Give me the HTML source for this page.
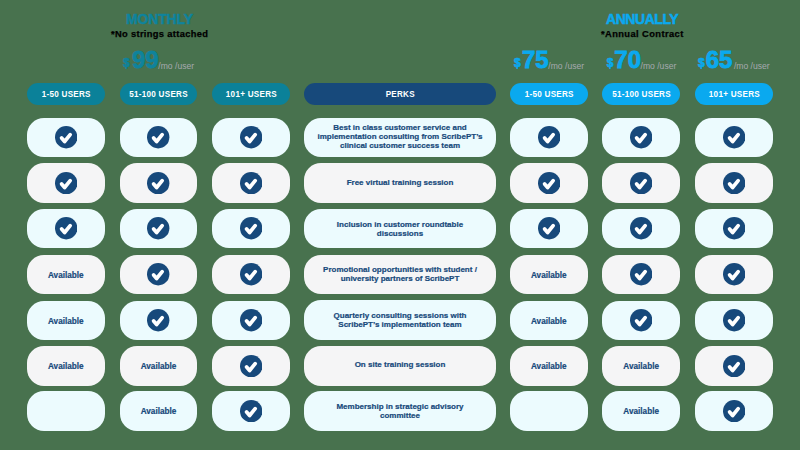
<!DOCTYPE html>
<html><head><meta charset="utf-8"><style>
html,body{margin:0;padding:0;}
body{width:800px;height:450px;background:#48724e;position:relative;overflow:hidden;font-family:"Liberation Sans",sans-serif;}
.cell{position:absolute;border-radius:17px;display:flex;align-items:center;justify-content:center;}
.cell svg{display:block;}
.av{font-size:8.2px;font-weight:bold;color:#17497b;-webkit-text-stroke:0.2px #17497b;position:relative;top:0.8px;}
.pk{font-size:8px;font-weight:bold;color:#17497b;text-align:center;line-height:9px;position:relative;top:-1.4px;-webkit-text-stroke:0.2px #17497b;}
.pill{position:absolute;top:83px;width:77.7px;height:22px;border-radius:11px;box-sizing:border-box;padding-bottom:0.5px;color:#fff;font-size:9px;letter-spacing:0.3px;font-weight:bold;display:flex;align-items:center;justify-content:center;}
.pill span{display:inline-block;transform:scaleX(0.9);white-space:nowrap;}
.hd{position:absolute;font-weight:bold;white-space:nowrap;}
</style></head><body>
<div class="hd" style="left:126px;top:11px;font-size:14px;letter-spacing:-0.15px;color:#0f839c;-webkit-text-stroke:0.5px #0f839c">MONTHLY</div>
<div class="hd" style="left:111px;top:28.5px;font-size:9.3px;letter-spacing:0.34px;color:#000;-webkit-text-stroke:0.25px #000">*No strings attached</div>
<div class="hd" style="left:606px;top:11px;font-size:14px;letter-spacing:-0.45px;color:#0aa9ef;-webkit-text-stroke:0.5px #0aa9ef">ANNUALLY</div>
<div class="hd" style="left:123.1px;top:55.5px;font-size:12px;color:#0f839c;-webkit-text-stroke:0.6px #0f839c">$</div><div class="hd" style="left:131.9px;top:46px;font-size:24px;color:#0f839c;-webkit-text-stroke:0.8px #0f839c">99</div><div class="hd" style="left:158.3px;top:60.5px;font-size:8.6px;font-weight:normal;color:#a6a9ae">/mo /user</div><div class="hd" style="left:514px;top:55.5px;font-size:12px;color:#0aa9ef;-webkit-text-stroke:0.6px #0aa9ef">$</div><div class="hd" style="left:521.9px;top:46px;font-size:24px;color:#0aa9ef;-webkit-text-stroke:0.8px #0aa9ef">75</div><div class="hd" style="left:548.3px;top:60.5px;font-size:8.6px;font-weight:normal;color:#a6a9ae">/mo /user</div><div class="hd" style="left:606.8px;top:55.5px;font-size:12px;color:#0aa9ef;-webkit-text-stroke:0.6px #0aa9ef">$</div><div class="hd" style="left:614.3px;top:46px;font-size:24px;color:#0aa9ef;-webkit-text-stroke:0.8px #0aa9ef">70</div><div class="hd" style="left:640.5px;top:60.5px;font-size:8.6px;font-weight:normal;color:#a6a9ae">/mo /user</div><div class="hd" style="left:697.9px;top:55.5px;font-size:12px;color:#0aa9ef;-webkit-text-stroke:0.6px #0aa9ef">$</div><div class="hd" style="left:705.7px;top:46px;font-size:24px;color:#0aa9ef;-webkit-text-stroke:0.8px #0aa9ef">65</div><div class="hd" style="left:733.9px;top:60.5px;font-size:8.6px;font-weight:normal;color:#a6a9ae">/mo /user</div>
<div class="hd" style="left:601px;top:28.5px;font-size:9.3px;letter-spacing:0.42px;color:#000;-webkit-text-stroke:0.25px #000">*Annual Contract</div>
<div class="cell" style="left:27px;top:118px;width:77.7px;height:38.900000000000006px;background:#ecfbfe"><svg width="22.4" height="22.4" viewBox="0 0 22.4 22.4"><circle cx="11.2" cy="11.2" r="11.2" fill="#17497b"/><path d="M6.6 12.0 L9.6 15.5 L15.2 8.6" stroke="#fff" stroke-width="3.7" fill="none" stroke-linecap="round" stroke-linejoin="round"/></svg></div><div class="cell" style="left:119.7px;top:118px;width:77.7px;height:38.900000000000006px;background:#ecfbfe"><svg width="22.4" height="22.4" viewBox="0 0 22.4 22.4"><circle cx="11.2" cy="11.2" r="11.2" fill="#17497b"/><path d="M6.6 12.0 L9.6 15.5 L15.2 8.6" stroke="#fff" stroke-width="3.7" fill="none" stroke-linecap="round" stroke-linejoin="round"/></svg></div><div class="cell" style="left:212.2px;top:118px;width:77.7px;height:38.900000000000006px;background:#ecfbfe"><svg width="22.4" height="22.4" viewBox="0 0 22.4 22.4"><circle cx="11.2" cy="11.2" r="11.2" fill="#17497b"/><path d="M6.6 12.0 L9.6 15.5 L15.2 8.6" stroke="#fff" stroke-width="3.7" fill="none" stroke-linecap="round" stroke-linejoin="round"/></svg></div><div class="cell" style="left:510px;top:118px;width:77.7px;height:38.900000000000006px;background:#ecfbfe"><svg width="22.4" height="22.4" viewBox="0 0 22.4 22.4"><circle cx="11.2" cy="11.2" r="11.2" fill="#17497b"/><path d="M6.6 12.0 L9.6 15.5 L15.2 8.6" stroke="#fff" stroke-width="3.7" fill="none" stroke-linecap="round" stroke-linejoin="round"/></svg></div><div class="cell" style="left:602.3px;top:118px;width:77.7px;height:38.900000000000006px;background:#ecfbfe"><svg width="22.4" height="22.4" viewBox="0 0 22.4 22.4"><circle cx="11.2" cy="11.2" r="11.2" fill="#17497b"/><path d="M6.6 12.0 L9.6 15.5 L15.2 8.6" stroke="#fff" stroke-width="3.7" fill="none" stroke-linecap="round" stroke-linejoin="round"/></svg></div><div class="cell" style="left:695.3px;top:118px;width:77.7px;height:38.900000000000006px;background:#ecfbfe"><svg width="22.4" height="22.4" viewBox="0 0 22.4 22.4"><circle cx="11.2" cy="11.2" r="11.2" fill="#17497b"/><path d="M6.6 12.0 L9.6 15.5 L15.2 8.6" stroke="#fff" stroke-width="3.7" fill="none" stroke-linecap="round" stroke-linejoin="round"/></svg></div><div class="cell" style="left:304.4px;top:118px;width:191.2px;height:38.900000000000006px;background:#ecfbfe"><span class="pk" style="top:-1.40px">Best in class customer service and<br>implementation consulting from ScribePT’s<br>clinical customer success team</span></div><div class="cell" style="left:27px;top:163px;width:77.7px;height:39.69999999999999px;background:#f5f5f6"><svg width="22.4" height="22.4" viewBox="0 0 22.4 22.4"><circle cx="11.2" cy="11.2" r="11.2" fill="#17497b"/><path d="M6.6 12.0 L9.6 15.5 L15.2 8.6" stroke="#fff" stroke-width="3.7" fill="none" stroke-linecap="round" stroke-linejoin="round"/></svg></div><div class="cell" style="left:119.7px;top:163px;width:77.7px;height:39.69999999999999px;background:#f5f5f6"><svg width="22.4" height="22.4" viewBox="0 0 22.4 22.4"><circle cx="11.2" cy="11.2" r="11.2" fill="#17497b"/><path d="M6.6 12.0 L9.6 15.5 L15.2 8.6" stroke="#fff" stroke-width="3.7" fill="none" stroke-linecap="round" stroke-linejoin="round"/></svg></div><div class="cell" style="left:212.2px;top:163px;width:77.7px;height:39.69999999999999px;background:#f5f5f6"><svg width="22.4" height="22.4" viewBox="0 0 22.4 22.4"><circle cx="11.2" cy="11.2" r="11.2" fill="#17497b"/><path d="M6.6 12.0 L9.6 15.5 L15.2 8.6" stroke="#fff" stroke-width="3.7" fill="none" stroke-linecap="round" stroke-linejoin="round"/></svg></div><div class="cell" style="left:510px;top:163px;width:77.7px;height:39.69999999999999px;background:#f5f5f6"><svg width="22.4" height="22.4" viewBox="0 0 22.4 22.4"><circle cx="11.2" cy="11.2" r="11.2" fill="#17497b"/><path d="M6.6 12.0 L9.6 15.5 L15.2 8.6" stroke="#fff" stroke-width="3.7" fill="none" stroke-linecap="round" stroke-linejoin="round"/></svg></div><div class="cell" style="left:602.3px;top:163px;width:77.7px;height:39.69999999999999px;background:#f5f5f6"><svg width="22.4" height="22.4" viewBox="0 0 22.4 22.4"><circle cx="11.2" cy="11.2" r="11.2" fill="#17497b"/><path d="M6.6 12.0 L9.6 15.5 L15.2 8.6" stroke="#fff" stroke-width="3.7" fill="none" stroke-linecap="round" stroke-linejoin="round"/></svg></div><div class="cell" style="left:695.3px;top:163px;width:77.7px;height:39.69999999999999px;background:#f5f5f6"><svg width="22.4" height="22.4" viewBox="0 0 22.4 22.4"><circle cx="11.2" cy="11.2" r="11.2" fill="#17497b"/><path d="M6.6 12.0 L9.6 15.5 L15.2 8.6" stroke="#fff" stroke-width="3.7" fill="none" stroke-linecap="round" stroke-linejoin="round"/></svg></div><div class="cell" style="left:304.4px;top:163px;width:191.2px;height:39.69999999999999px;background:#f5f5f6"><span class="pk" style="top:-0.50px">Free virtual training session</span></div><div class="cell" style="left:27px;top:209.2px;width:77.7px;height:38.60000000000002px;background:#ecfbfe"><svg width="22.4" height="22.4" viewBox="0 0 22.4 22.4"><circle cx="11.2" cy="11.2" r="11.2" fill="#17497b"/><path d="M6.6 12.0 L9.6 15.5 L15.2 8.6" stroke="#fff" stroke-width="3.7" fill="none" stroke-linecap="round" stroke-linejoin="round"/></svg></div><div class="cell" style="left:119.7px;top:209.2px;width:77.7px;height:38.60000000000002px;background:#ecfbfe"><svg width="22.4" height="22.4" viewBox="0 0 22.4 22.4"><circle cx="11.2" cy="11.2" r="11.2" fill="#17497b"/><path d="M6.6 12.0 L9.6 15.5 L15.2 8.6" stroke="#fff" stroke-width="3.7" fill="none" stroke-linecap="round" stroke-linejoin="round"/></svg></div><div class="cell" style="left:212.2px;top:209.2px;width:77.7px;height:38.60000000000002px;background:#ecfbfe"><svg width="22.4" height="22.4" viewBox="0 0 22.4 22.4"><circle cx="11.2" cy="11.2" r="11.2" fill="#17497b"/><path d="M6.6 12.0 L9.6 15.5 L15.2 8.6" stroke="#fff" stroke-width="3.7" fill="none" stroke-linecap="round" stroke-linejoin="round"/></svg></div><div class="cell" style="left:510px;top:209.2px;width:77.7px;height:38.60000000000002px;background:#ecfbfe"><svg width="22.4" height="22.4" viewBox="0 0 22.4 22.4"><circle cx="11.2" cy="11.2" r="11.2" fill="#17497b"/><path d="M6.6 12.0 L9.6 15.5 L15.2 8.6" stroke="#fff" stroke-width="3.7" fill="none" stroke-linecap="round" stroke-linejoin="round"/></svg></div><div class="cell" style="left:602.3px;top:209.2px;width:77.7px;height:38.60000000000002px;background:#ecfbfe"><svg width="22.4" height="22.4" viewBox="0 0 22.4 22.4"><circle cx="11.2" cy="11.2" r="11.2" fill="#17497b"/><path d="M6.6 12.0 L9.6 15.5 L15.2 8.6" stroke="#fff" stroke-width="3.7" fill="none" stroke-linecap="round" stroke-linejoin="round"/></svg></div><div class="cell" style="left:695.3px;top:209.2px;width:77.7px;height:38.60000000000002px;background:#ecfbfe"><svg width="22.4" height="22.4" viewBox="0 0 22.4 22.4"><circle cx="11.2" cy="11.2" r="11.2" fill="#17497b"/><path d="M6.6 12.0 L9.6 15.5 L15.2 8.6" stroke="#fff" stroke-width="3.7" fill="none" stroke-linecap="round" stroke-linejoin="round"/></svg></div><div class="cell" style="left:304.4px;top:209.2px;width:191.2px;height:38.60000000000002px;background:#ecfbfe"><span class="pk" style="top:0.45px">Inclusion in customer roundtable<br>discussions</span></div><div class="cell" style="left:27px;top:255.2px;width:77.7px;height:38.60000000000002px;background:#f5f5f6"><span class="av">Available</span></div><div class="cell" style="left:119.7px;top:255.2px;width:77.7px;height:38.60000000000002px;background:#f5f5f6"><svg width="22.4" height="22.4" viewBox="0 0 22.4 22.4"><circle cx="11.2" cy="11.2" r="11.2" fill="#17497b"/><path d="M6.6 12.0 L9.6 15.5 L15.2 8.6" stroke="#fff" stroke-width="3.7" fill="none" stroke-linecap="round" stroke-linejoin="round"/></svg></div><div class="cell" style="left:212.2px;top:255.2px;width:77.7px;height:38.60000000000002px;background:#f5f5f6"><svg width="22.4" height="22.4" viewBox="0 0 22.4 22.4"><circle cx="11.2" cy="11.2" r="11.2" fill="#17497b"/><path d="M6.6 12.0 L9.6 15.5 L15.2 8.6" stroke="#fff" stroke-width="3.7" fill="none" stroke-linecap="round" stroke-linejoin="round"/></svg></div><div class="cell" style="left:510px;top:255.2px;width:77.7px;height:38.60000000000002px;background:#f5f5f6"><span class="av">Available</span></div><div class="cell" style="left:602.3px;top:255.2px;width:77.7px;height:38.60000000000002px;background:#f5f5f6"><svg width="22.4" height="22.4" viewBox="0 0 22.4 22.4"><circle cx="11.2" cy="11.2" r="11.2" fill="#17497b"/><path d="M6.6 12.0 L9.6 15.5 L15.2 8.6" stroke="#fff" stroke-width="3.7" fill="none" stroke-linecap="round" stroke-linejoin="round"/></svg></div><div class="cell" style="left:695.3px;top:255.2px;width:77.7px;height:38.60000000000002px;background:#f5f5f6"><svg width="22.4" height="22.4" viewBox="0 0 22.4 22.4"><circle cx="11.2" cy="11.2" r="11.2" fill="#17497b"/><path d="M6.6 12.0 L9.6 15.5 L15.2 8.6" stroke="#fff" stroke-width="3.7" fill="none" stroke-linecap="round" stroke-linejoin="round"/></svg></div><div class="cell" style="left:304.4px;top:255.2px;width:191.2px;height:38.60000000000002px;background:#f5f5f6"><span class="pk" style="top:-0.40px">Promotional opportunities with student /<br>university partners of ScribePT</span></div><div class="cell" style="left:27px;top:301.0px;width:77.7px;height:39.10000000000002px;background:#ecfbfe"><span class="av">Available</span></div><div class="cell" style="left:119.7px;top:301.0px;width:77.7px;height:39.10000000000002px;background:#ecfbfe"><svg width="22.4" height="22.4" viewBox="0 0 22.4 22.4"><circle cx="11.2" cy="11.2" r="11.2" fill="#17497b"/><path d="M6.6 12.0 L9.6 15.5 L15.2 8.6" stroke="#fff" stroke-width="3.7" fill="none" stroke-linecap="round" stroke-linejoin="round"/></svg></div><div class="cell" style="left:212.2px;top:301.0px;width:77.7px;height:39.10000000000002px;background:#ecfbfe"><svg width="22.4" height="22.4" viewBox="0 0 22.4 22.4"><circle cx="11.2" cy="11.2" r="11.2" fill="#17497b"/><path d="M6.6 12.0 L9.6 15.5 L15.2 8.6" stroke="#fff" stroke-width="3.7" fill="none" stroke-linecap="round" stroke-linejoin="round"/></svg></div><div class="cell" style="left:510px;top:301.0px;width:77.7px;height:39.10000000000002px;background:#ecfbfe"><span class="av">Available</span></div><div class="cell" style="left:602.3px;top:301.0px;width:77.7px;height:39.10000000000002px;background:#ecfbfe"><svg width="22.4" height="22.4" viewBox="0 0 22.4 22.4"><circle cx="11.2" cy="11.2" r="11.2" fill="#17497b"/><path d="M6.6 12.0 L9.6 15.5 L15.2 8.6" stroke="#fff" stroke-width="3.7" fill="none" stroke-linecap="round" stroke-linejoin="round"/></svg></div><div class="cell" style="left:695.3px;top:301.0px;width:77.7px;height:39.10000000000002px;background:#ecfbfe"><svg width="22.4" height="22.4" viewBox="0 0 22.4 22.4"><circle cx="11.2" cy="11.2" r="11.2" fill="#17497b"/><path d="M6.6 12.0 L9.6 15.5 L15.2 8.6" stroke="#fff" stroke-width="3.7" fill="none" stroke-linecap="round" stroke-linejoin="round"/></svg></div><div class="cell" style="left:304.4px;top:300.1px;width:191.2px;height:40.0px;background:#ecfbfe"><span class="pk" style="top:-0.40px">Quarterly consulting sessions with<br>ScribePT’s implementation team</span></div><div class="cell" style="left:27px;top:345.9px;width:77.7px;height:40.10000000000002px;background:#f5f5f6"><span class="av">Available</span></div><div class="cell" style="left:119.7px;top:345.9px;width:77.7px;height:40.10000000000002px;background:#f5f5f6"><span class="av">Available</span></div><div class="cell" style="left:212.2px;top:345.9px;width:77.7px;height:40.10000000000002px;background:#f5f5f6"><svg width="22.4" height="22.4" viewBox="0 0 22.4 22.4"><circle cx="11.2" cy="11.2" r="11.2" fill="#17497b"/><path d="M6.6 12.0 L9.6 15.5 L15.2 8.6" stroke="#fff" stroke-width="3.7" fill="none" stroke-linecap="round" stroke-linejoin="round"/></svg></div><div class="cell" style="left:510px;top:345.9px;width:77.7px;height:40.10000000000002px;background:#f5f5f6"><span class="av">Available</span></div><div class="cell" style="left:602.3px;top:345.9px;width:77.7px;height:40.10000000000002px;background:#f5f5f6"><span class="av">Available</span></div><div class="cell" style="left:695.3px;top:345.9px;width:77.7px;height:40.10000000000002px;background:#f5f5f6"><svg width="22.4" height="22.4" viewBox="0 0 22.4 22.4"><circle cx="11.2" cy="11.2" r="11.2" fill="#17497b"/><path d="M6.6 12.0 L9.6 15.5 L15.2 8.6" stroke="#fff" stroke-width="3.7" fill="none" stroke-linecap="round" stroke-linejoin="round"/></svg></div><div class="cell" style="left:304.4px;top:345.9px;width:191.2px;height:40.10000000000002px;background:#f5f5f6"><span class="pk" style="top:-1.40px">On site training session</span></div><div class="cell" style="left:27px;top:391.4px;width:77.7px;height:39.5px;background:#ecfbfe"></div><div class="cell" style="left:119.7px;top:391.4px;width:77.7px;height:39.5px;background:#ecfbfe"><span class="av">Available</span></div><div class="cell" style="left:212.2px;top:391.4px;width:77.7px;height:39.5px;background:#ecfbfe"><svg width="22.4" height="22.4" viewBox="0 0 22.4 22.4"><circle cx="11.2" cy="11.2" r="11.2" fill="#17497b"/><path d="M6.6 12.0 L9.6 15.5 L15.2 8.6" stroke="#fff" stroke-width="3.7" fill="none" stroke-linecap="round" stroke-linejoin="round"/></svg></div><div class="cell" style="left:510px;top:391.4px;width:77.7px;height:39.5px;background:#ecfbfe"></div><div class="cell" style="left:602.3px;top:391.4px;width:77.7px;height:39.5px;background:#ecfbfe"><span class="av">Available</span></div><div class="cell" style="left:695.3px;top:391.4px;width:77.7px;height:39.5px;background:#ecfbfe"><svg width="22.4" height="22.4" viewBox="0 0 22.4 22.4"><circle cx="11.2" cy="11.2" r="11.2" fill="#17497b"/><path d="M6.6 12.0 L9.6 15.5 L15.2 8.6" stroke="#fff" stroke-width="3.7" fill="none" stroke-linecap="round" stroke-linejoin="round"/></svg></div><div class="cell" style="left:304.4px;top:391.4px;width:191.2px;height:39.5px;background:#ecfbfe"><span class="pk" style="top:-0.60px">Membership in strategic advisory<br>committee</span></div><div class="pill" style="left:27px;background:#0b8199"><span>1-50 USERS</span></div><div class="pill" style="left:119.7px;background:#0b8199"><span>51-100 USERS</span></div><div class="pill" style="left:212.2px;background:#0b8199"><span>101+ USERS</span></div><div class="pill" style="left:510px;background:#0aa9ef"><span>1-50 USERS</span></div><div class="pill" style="left:602.3px;background:#0aa9ef"><span>51-100 USERS</span></div><div class="pill" style="left:695.3px;background:#0aa9ef"><span>101+ USERS</span></div><div class="pill" style="left:304.4px;width:191.2px;background:#17497b"><span>PERKS</span></div>
</body></html>
